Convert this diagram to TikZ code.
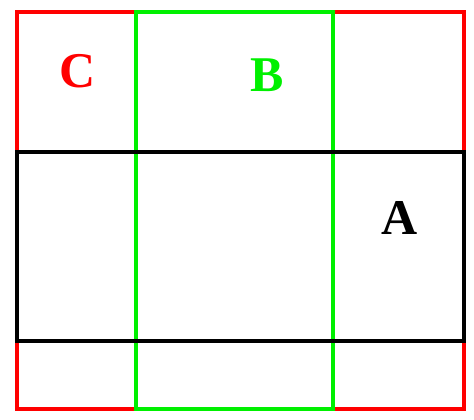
\documentclass[tikz,border=0pt]{standalone}
\usepackage{fontspec}
\setmainfont{Liberation Serif}
\definecolor{rred}{RGB}{255,0,0}
\definecolor{ggreen}{RGB}{0,240,0}
\begin{document}
\begin{tikzpicture}[x=1pt,y=-1pt,
  box/.style={line width=4pt},
  lbl/.style={font=\fontsize{50}{60}\selectfont\bfseries, inner sep=0pt, anchor=center}]
\useasboundingbox (0,0) rectangle (474,420);
\draw[box, rred] (17,12) rectangle (464,409);
\draw[box, ggreen] (136,12) rectangle (333,409);
\draw[box, black] (17,152) rectangle (464,341);
\node[lbl, text=rred] (c) at (78,71) {C};
\node[lbl, text=ggreen] (b) at (267,75) {B};
\node[lbl, text=black] (a) at (400,218) {A};
\end{tikzpicture}
\end{document}
